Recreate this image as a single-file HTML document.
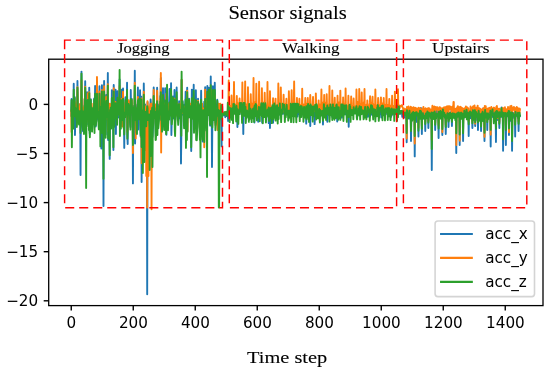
<!DOCTYPE html>
<html lang="en">
<head>
<meta charset="utf-8">
<title>Sensor signals</title>
<style>
html,body{margin:0;padding:0;background:#fff;}
body{width:550px;height:375px;overflow:hidden;}
svg{display:block;}
</style>
</head>
<body>
<svg width="550" height="375" viewBox="0 0 550 375">
<rect width="550" height="375" fill="#fff"/>
<defs><clipPath id="c"><rect x="48.70" y="59.20" width="494.30" height="246.40"/></clipPath></defs>
<g clip-path="url(#c)" fill="none" stroke-width="1.9" stroke-linejoin="round" stroke-linecap="butt">
<path d="M71.25,116.68 L71.56,98.92 L71.87,107.16 L72.18,115.03 L72.49,116.93 L72.80,112.35 L73.11,116.52 L73.42,121.38 L73.73,83.80 L74.04,115.54 L74.35,106.19 L74.66,97.04 L74.97,135.00 L75.28,117.44 L75.59,115.10 L75.90,104.66 L76.21,107.16 L76.52,115.91 L76.83,120.26 L77.14,118.64 L77.45,80.90 L77.76,108.50 L78.07,111.15 L78.38,111.20 L78.69,115.74 L79.00,114.50 L79.31,113.08 L79.62,111.66 L79.93,104.40 L80.24,111.39 L80.55,175.00 L80.86,111.07 L81.17,102.88 L81.48,71.60 L81.79,111.04 L82.10,115.39 L82.41,108.10 L82.72,125.98 L83.03,131.25 L83.34,120.71 L83.65,114.00 L83.96,114.97 L84.27,111.83 L84.58,99.59 L84.89,109.75 L85.20,81.10 L85.51,116.80 L85.82,110.49 L86.13,116.72 L86.44,118.84 L86.75,124.14 L87.06,92.20 L87.37,110.38 L87.68,110.12 L87.99,94.17 L88.30,112.66 L88.61,112.43 L88.92,115.10 L89.23,87.80 L89.54,127.53 L89.85,134.03 L90.16,121.03 L90.47,109.74 L90.78,99.09 L91.09,126.60 L91.40,112.72 L91.71,108.34 L92.02,118.14 L92.33,115.70 L92.64,113.40 L92.95,109.53 L93.26,109.09 L93.57,113.67 L93.88,111.93 L94.19,98.54 L94.50,108.88 L94.81,109.87 L95.12,86.00 L95.43,108.41 L95.74,126.44 L96.05,123.25 L96.36,120.06 L96.67,117.67 L96.98,82.20 L97.29,111.43 L97.60,118.64 L97.91,109.12 L98.22,117.38 L98.53,118.51 L98.84,121.91 L99.15,115.11 L99.46,86.30 L99.77,109.59 L100.08,104.40 L100.39,102.26 L100.70,111.24 L101.01,111.85 L101.32,148.60 L101.63,113.85 L101.94,85.20 L102.25,124.39 L102.56,110.30 L102.87,106.39 L103.18,114.20 L103.49,206.00 L103.80,107.55 L104.11,80.90 L104.42,106.05 L104.73,109.03 L105.04,112.15 L105.35,123.41 L105.66,134.46 L105.97,118.03 L106.28,95.03 L106.59,111.03 L106.90,109.42 L107.21,118.29 L107.52,112.40 L107.83,73.00 L108.14,140.06 L108.45,133.47 L108.76,126.87 L109.07,106.82 L109.38,109.10 L109.69,158.90 L110.00,110.85 L110.31,107.44 L110.62,118.64 L110.93,121.93 L111.24,126.04 L111.55,117.83 L111.86,90.30 L112.17,105.77 L112.48,109.40 L112.79,96.03 L113.10,107.31 L113.41,150.00 L113.72,84.90 L114.03,119.06 L114.34,124.55 L114.65,119.67 L114.96,111.00 L115.27,109.91 L115.58,89.60 L115.89,134.00 L116.20,104.40 L116.51,115.05 L116.82,111.61 L117.13,114.57 L117.44,91.10 L117.75,106.16 L118.06,117.45 L118.37,114.83 L118.68,109.29 L118.99,99.33 L119.30,117.51 L119.61,79.33 L119.92,108.60 L120.23,108.60 L120.54,112.88 L120.85,116.52 L121.16,111.84 L121.47,89.60 L121.78,114.81 L122.09,99.74 L122.40,109.88 L122.71,113.89 L123.02,88.50 L123.33,112.85 L123.64,116.14 L123.95,113.21 L124.26,147.90 L124.57,106.74 L124.88,113.58 L125.19,112.72 L125.50,97.19 L125.81,104.40 L126.12,104.40 L126.43,110.50 L126.74,109.82 L127.05,82.70 L127.36,135.22 L127.67,144.00 L127.98,110.27 L128.29,108.79 L128.60,101.09 L128.91,118.06 L129.22,117.13 L129.53,107.84 L129.84,114.13 L130.15,122.64 L130.46,127.05 L130.77,90.00 L131.08,112.26 L131.39,108.58 L131.70,98.69 L132.01,112.38 L132.32,115.31 L132.63,105.78 L132.94,183.40 L133.25,122.66 L133.56,127.07 L133.87,118.24 L134.18,107.69 L134.49,117.83 L134.80,70.70 L135.11,143.50 L135.42,104.40 L135.73,106.56 L136.04,111.28 L136.35,117.37 L136.66,124.14 L136.97,111.82 L137.28,112.40 L137.59,105.43 L137.90,87.40 L138.21,129.50 L138.52,96.16 L138.83,104.40 L139.14,104.40 L139.45,108.28 L139.76,107.76 L140.07,90.30 L140.38,125.21 L140.69,136.75 L141.00,108.87 L141.31,96.60 L141.62,182.00 L141.93,118.25 L142.24,109.16 L142.55,114.06 L142.86,116.86 L143.17,119.55 L143.48,114.17 L143.79,83.40 L144.10,106.96 L144.41,109.66 L144.72,105.87 L145.03,104.40 L145.34,110.68 L145.65,118.64 L145.96,114.73 L146.27,116.12 L146.58,113.00 L146.89,110.43 L147.20,294.20 L147.51,102.14 L147.82,117.46 L148.13,109.47 L148.44,111.27 L148.75,112.17 L149.06,111.11 L149.37,119.66 L149.68,123.55 L149.99,118.22 L150.30,110.91 L150.61,99.57 L150.92,104.40 L151.23,104.94 L151.54,107.66 L151.85,113.77 L152.16,104.41 L152.47,137.05 L152.78,131.21 L153.09,125.37 L153.40,110.38 L153.71,87.40 L154.02,101.83 L154.33,115.58 L154.64,112.43 L154.95,104.40 L155.26,111.09 L155.57,125.52 L155.88,136.29 L156.19,126.72 L156.50,115.70 L156.81,111.70 L157.12,87.80 L157.43,109.59 L157.74,110.24 L158.05,104.40 L158.36,116.29 L158.67,114.42 L158.98,113.08 L159.29,104.40 L159.60,118.64 L159.91,113.74 L160.22,95.92 L160.53,107.85 L160.84,77.89 L161.15,104.62 L161.46,117.74 L161.77,117.65 L162.08,123.43 L162.39,118.29 L162.70,108.40 L163.01,88.20 L163.32,118.64 L163.63,112.42 L163.94,117.40 L164.25,122.33 L164.56,119.40 L164.87,116.46 L165.18,88.20 L165.49,111.67 L165.80,117.56 L166.11,114.12 L166.42,134.70 L166.73,116.16 L167.04,93.40 L167.35,113.63 L167.66,123.09 L167.97,127.69 L168.28,118.49 L168.59,109.21 L168.90,110.32 L169.21,107.99 L169.52,88.90 L169.83,109.25 L170.14,108.91 L170.45,109.05 L170.76,108.97 L171.07,83.10 L171.38,135.00 L171.69,122.34 L172.00,119.84 L172.31,117.35 L172.62,104.40 L172.93,96.57 L173.24,116.14 L173.55,118.33 L173.86,112.03 L174.17,111.18 L174.48,90.00 L174.79,117.51 L175.10,121.24 L175.41,113.79 L175.72,113.98 L176.03,100.02 L176.34,106.46 L176.65,87.40 L176.96,115.24 L177.27,112.84 L177.58,114.49 L177.89,115.05 L178.20,118.70 L178.51,115.45 L178.82,110.91 L179.13,101.16 L179.44,115.01 L179.75,112.88 L180.06,118.64 L180.37,117.17 L180.68,112.61 L180.99,163.60 L181.30,137.37 L181.61,79.90 L181.92,112.83 L182.23,107.25 L182.54,100.76 L182.85,111.13 L183.16,114.70 L183.47,107.99 L183.78,113.34 L184.09,116.35 L184.40,114.33 L184.71,104.40 L185.02,109.81 L185.33,105.66 L185.64,91.70 L185.95,109.10 L186.26,113.44 L186.57,111.48 L186.88,104.40 L187.19,87.80 L187.50,118.09 L187.81,111.16 L188.12,109.34 L188.43,105.43 L188.74,112.94 L189.05,98.64 L189.36,112.02 L189.67,110.72 L189.98,110.30 L190.29,104.96 L190.60,109.38 L190.91,122.77 L191.22,151.10 L191.53,123.59 L191.84,89.60 L192.15,107.26 L192.46,109.66 L192.77,110.10 L193.08,104.40 L193.39,114.88 L193.70,84.70 L194.01,129.99 L194.32,122.93 L194.63,112.72 L194.94,99.32 L195.25,112.01 L195.56,110.25 L195.87,90.30 L196.18,115.83 L196.49,110.88 L196.80,129.51 L197.11,124.78 L197.42,120.05 L197.73,107.85 L198.04,98.67 L198.35,109.98 L198.66,115.47 L198.97,105.77 L199.28,104.40 L199.59,120.86 L199.90,129.27 L200.21,121.80 L200.52,110.25 L200.83,110.33 L201.14,90.70 L201.45,116.61 L201.76,106.12 L202.07,111.00 L202.38,133.12 L202.69,141.45 L203.00,124.79 L203.31,109.56 L203.62,107.53 L203.93,110.62 L204.24,101.68 L204.55,113.09 L204.86,118.64 L205.17,87.10 L205.48,107.69 L205.79,110.13 L206.10,120.96 L206.41,128.00 L206.72,121.74 L207.03,113.91 L207.34,86.00 L207.65,105.53 L207.96,94.89 L208.27,105.52 L208.58,113.61 L208.89,87.80 L209.20,105.21 L209.51,111.21 L209.82,120.23 L210.13,125.58 L210.44,120.82 L210.75,76.50 L211.06,112.67 L211.37,108.99 L211.68,107.63 L211.99,167.00 L212.30,125.13 L212.61,117.46 L212.92,86.30 L213.23,112.96 L213.54,110.49 L213.85,101.80 L214.16,113.28 L214.47,112.67 L214.78,82.70 L215.09,109.84 L215.40,122.47 L215.71,119.50 L216.02,116.53 L216.33,104.40 L216.64,114.43 L216.95,107.21 L217.26,99.71 L217.57,104.40 L217.88,104.40 L218.19,118.64 L218.50,115.06 L218.81,107.85 L219.12,114.11 L219.43,119.39 L219.74,111.10 L220.05,108.77 L220.36,107.90 L220.67,111.13 L220.98,106.24 L221.29,118.64 L221.60,146.40 L221.91,115.35 L222.22,106.55 L222.53,115.96 L222.84,112.56 L223.15,112.44 L223.46,115.06 L223.77,115.14 L224.08,113.96 L224.39,114.20 L224.70,115.66 L225.01,113.38 L225.32,117.23 L225.63,114.86 L225.94,114.82 L226.25,114.62 L226.56,113.77 L226.87,116.03 L227.18,113.35 L227.49,114.49 L227.80,112.13 L228.11,121.00 L228.42,110.44 L228.73,115.10 L229.04,114.60 L229.35,112.50 L229.66,112.55 L229.97,111.10 L230.28,108.52 L230.59,112.44 L230.90,110.06 L231.21,109.80 L231.52,113.94 L231.83,110.71 L232.14,113.59 L232.45,108.66 L232.76,110.16 L233.07,111.23 L233.38,114.56 L233.69,110.99 L234.00,113.16 L234.31,109.54 L234.62,111.57 L234.93,113.27 L235.24,109.00 L235.55,109.50 L235.86,112.73 L236.17,108.42 L236.48,112.01 L236.79,112.03 L237.10,110.97 L237.41,127.00 L237.72,112.36 L238.03,111.67 L238.34,107.52 L238.65,107.59 L238.96,111.91 L239.27,107.32 L239.58,111.38 L239.89,110.34 L240.20,109.10 L240.51,110.56 L240.82,105.34 L241.13,110.68 L241.44,114.21 L241.75,108.07 L242.06,112.29 L242.37,112.02 L242.68,118.62 L242.99,108.82 L243.30,134.00 L243.61,109.31 L243.92,108.87 L244.23,107.12 L244.54,111.39 L244.85,108.97 L245.16,113.10 L245.47,112.14 L245.78,108.68 L246.09,110.31 L246.40,114.55 L246.71,110.39 L247.02,111.72 L247.33,113.28 L247.64,110.21 L247.95,112.27 L248.26,115.13 L248.57,114.00 L248.88,106.93 L249.19,114.99 L249.50,110.73 L249.81,109.78 L250.12,109.70 L250.43,114.28 L250.74,112.06 L251.05,110.93 L251.36,109.31 L251.67,112.86 L251.98,114.13 L252.29,108.81 L252.60,108.56 L252.91,110.37 L253.22,112.77 L253.53,110.28 L253.84,111.01 L254.15,109.22 L254.46,122.50 L254.77,110.99 L255.08,111.66 L255.39,114.00 L255.70,110.74 L256.01,111.19 L256.32,112.28 L256.63,110.30 L256.94,114.76 L257.25,111.41 L257.56,110.21 L257.87,110.58 L258.18,121.78 L258.49,114.22 L258.80,114.98 L259.11,110.69 L259.42,110.16 L259.73,106.07 L260.04,109.76 L260.35,113.42 L260.66,109.30 L260.97,113.35 L261.28,114.92 L261.59,104.87 L261.90,110.47 L262.21,122.80 L262.52,109.89 L262.83,106.83 L263.14,110.58 L263.45,108.28 L263.76,113.80 L264.07,114.69 L264.38,107.77 L264.69,107.65 L265.00,110.02 L265.31,110.72 L265.62,110.87 L265.93,112.96 L266.24,107.50 L266.55,109.66 L266.86,110.03 L267.17,110.35 L267.48,108.70 L267.79,110.03 L268.10,109.44 L268.41,114.14 L268.72,123.12 L269.03,105.90 L269.34,112.55 L269.65,111.59 L269.96,128.00 L270.27,108.92 L270.58,109.74 L270.89,115.25 L271.20,110.04 L271.51,114.18 L271.82,113.30 L272.13,109.93 L272.44,112.00 L272.75,109.29 L273.06,122.78 L273.37,109.37 L273.68,109.50 L273.99,113.47 L274.30,112.85 L274.61,113.89 L274.92,112.58 L275.23,113.95 L275.54,112.89 L275.85,111.79 L276.16,113.73 L276.47,114.76 L276.78,114.62 L277.09,110.16 L277.40,111.13 L277.71,108.76 L278.02,108.71 L278.33,112.11 L278.64,109.63 L278.95,114.81 L279.26,105.67 L279.57,108.34 L279.88,111.80 L280.19,114.13 L280.50,110.34 L280.81,115.87 L281.12,113.19 L281.43,109.44 L281.74,111.09 L282.05,112.48 L282.36,108.94 L282.67,113.82 L282.98,110.58 L283.29,112.50 L283.60,113.35 L283.91,110.14 L284.22,113.71 L284.53,106.60 L284.84,112.71 L285.15,106.39 L285.46,113.96 L285.77,109.79 L286.08,114.22 L286.39,114.57 L286.70,110.88 L287.01,109.61 L287.32,114.40 L287.63,108.37 L287.94,113.23 L288.25,110.95 L288.56,110.34 L288.87,109.81 L289.18,115.69 L289.49,107.30 L289.80,109.89 L290.11,112.32 L290.42,113.79 L290.73,115.43 L291.04,114.62 L291.35,109.94 L291.66,112.11 L291.97,114.05 L292.28,112.57 L292.59,107.43 L292.90,112.09 L293.21,112.71 L293.52,107.96 L293.83,110.14 L294.14,111.17 L294.45,112.77 L294.76,115.09 L295.07,114.15 L295.38,112.45 L295.69,111.81 L296.00,110.40 L296.31,109.92 L296.62,110.73 L296.93,110.73 L297.24,113.75 L297.55,116.56 L297.86,112.55 L298.17,113.62 L298.48,112.88 L298.79,111.95 L299.10,114.33 L299.41,114.00 L299.72,111.52 L300.03,110.99 L300.34,112.88 L300.65,110.05 L300.96,111.81 L301.27,113.78 L301.58,111.17 L301.89,106.65 L302.20,112.93 L302.51,108.41 L302.82,107.89 L303.13,107.60 L303.44,113.29 L303.75,106.33 L304.06,110.99 L304.37,111.90 L304.68,111.84 L304.99,109.80 L305.30,111.15 L305.61,111.71 L305.92,108.12 L306.23,123.64 L306.54,113.83 L306.85,109.33 L307.16,109.55 L307.47,108.59 L307.78,113.91 L308.09,108.62 L308.40,110.09 L308.71,106.95 L309.02,114.34 L309.33,110.74 L309.64,111.96 L309.95,115.18 L310.26,126.00 L310.57,108.51 L310.88,112.43 L311.19,113.05 L311.50,109.14 L311.81,108.85 L312.12,108.85 L312.43,113.21 L312.74,111.42 L313.05,108.74 L313.36,112.88 L313.67,113.11 L313.98,109.24 L314.29,107.44 L314.60,124.14 L314.91,117.65 L315.22,114.83 L315.53,113.76 L315.84,111.61 L316.15,109.76 L316.46,111.63 L316.77,112.99 L317.08,110.90 L317.39,113.64 L317.70,111.39 L318.01,112.85 L318.32,104.69 L318.63,109.27 L318.94,113.32 L319.25,113.72 L319.56,112.35 L319.87,115.31 L320.18,113.07 L320.49,113.09 L320.80,109.10 L321.11,112.32 L321.42,113.21 L321.73,114.56 L322.04,114.16 L322.35,111.44 L322.66,111.80 L322.97,124.57 L323.28,112.82 L323.59,108.67 L323.90,110.64 L324.21,111.29 L324.52,116.20 L324.83,114.44 L325.14,109.45 L325.45,107.84 L325.76,110.77 L326.07,109.40 L326.38,112.27 L326.69,112.19 L327.00,112.90 L327.31,121.74 L327.62,110.43 L327.93,111.85 L328.24,112.08 L328.55,109.91 L328.86,110.48 L329.17,113.32 L329.48,107.06 L329.79,110.64 L330.10,111.25 L330.41,107.65 L330.72,108.76 L331.03,111.49 L331.34,109.96 L331.65,113.90 L331.96,112.85 L332.27,116.82 L332.58,108.28 L332.89,115.93 L333.20,109.60 L333.51,113.31 L333.82,113.68 L334.13,111.75 L334.44,110.62 L334.75,109.77 L335.06,106.92 L335.37,110.39 L335.68,109.11 L335.99,112.74 L336.30,109.52 L336.61,110.90 L336.92,112.41 L337.23,121.48 L337.54,111.43 L337.85,110.80 L338.16,110.29 L338.47,112.52 L338.78,113.09 L339.09,109.44 L339.40,115.44 L339.71,112.79 L340.02,107.46 L340.33,117.92 L340.64,112.98 L340.95,109.59 L341.26,115.33 L341.57,104.90 L341.88,117.63 L342.19,107.75 L342.50,107.45 L342.81,109.02 L343.12,111.82 L343.43,110.40 L343.74,113.48 L344.05,109.29 L344.36,114.02 L344.67,111.95 L344.98,108.83 L345.29,114.01 L345.60,112.17 L345.91,110.87 L346.22,114.57 L346.53,108.42 L346.84,110.44 L347.15,114.99 L347.46,111.39 L347.77,113.18 L348.08,112.89 L348.39,111.09 L348.70,126.70 L349.01,108.91 L349.32,113.00 L349.63,108.86 L349.94,111.38 L350.25,109.17 L350.56,112.60 L350.87,112.51 L351.18,114.10 L351.49,109.86 L351.80,108.97 L352.11,106.07 L352.42,108.11 L352.73,110.66 L353.04,111.79 L353.35,110.32 L353.66,111.34 L353.97,107.68 L354.28,108.96 L354.59,113.33 L354.90,112.96 L355.21,107.92 L355.52,110.52 L355.83,111.84 L356.14,108.36 L356.45,112.23 L356.76,111.96 L357.07,112.41 L357.38,116.09 L357.69,109.15 L358.00,114.24 L358.31,112.67 L358.62,113.10 L358.93,109.49 L359.24,111.44 L359.55,111.24 L359.86,115.40 L360.17,111.49 L360.48,114.90 L360.79,110.52 L361.10,110.37 L361.41,111.32 L361.72,106.26 L362.03,109.98 L362.34,109.81 L362.65,110.92 L362.96,111.75 L363.27,108.90 L363.58,108.57 L363.89,114.47 L364.20,108.69 L364.51,110.01 L364.82,108.92 L365.13,110.13 L365.44,114.33 L365.75,114.15 L366.06,106.79 L366.37,110.65 L366.68,114.75 L366.99,110.42 L367.30,112.16 L367.61,115.80 L367.92,116.90 L368.23,115.21 L368.54,110.61 L368.85,111.39 L369.16,111.89 L369.47,110.58 L369.78,109.80 L370.09,116.44 L370.40,112.01 L370.71,113.31 L371.02,114.30 L371.33,112.62 L371.64,111.58 L371.95,111.93 L372.26,114.85 L372.57,112.46 L372.88,106.33 L373.19,113.86 L373.50,115.42 L373.81,110.60 L374.12,109.81 L374.43,110.13 L374.74,114.02 L375.05,108.82 L375.36,113.20 L375.67,114.06 L375.98,112.77 L376.29,111.54 L376.60,109.52 L376.91,109.74 L377.22,111.33 L377.53,108.98 L377.84,111.07 L378.15,109.07 L378.46,114.72 L378.77,115.14 L379.08,109.37 L379.39,114.69 L379.70,112.01 L380.01,111.51 L380.32,112.47 L380.63,112.39 L380.94,107.86 L381.25,117.48 L381.56,109.10 L381.87,105.64 L382.18,111.22 L382.49,111.32 L382.80,109.49 L383.11,106.78 L383.42,114.19 L383.73,111.06 L384.04,111.73 L384.35,109.90 L384.66,110.88 L384.97,109.65 L385.28,112.31 L385.59,111.15 L385.90,112.92 L386.21,112.90 L386.52,111.62 L386.83,111.62 L387.14,114.15 L387.45,107.42 L387.76,111.61 L388.07,114.67 L388.38,108.57 L388.69,113.11 L389.00,110.03 L389.31,111.32 L389.62,110.66 L389.93,110.85 L390.24,112.69 L390.55,111.17 L390.86,106.28 L391.17,116.77 L391.48,111.11 L391.79,110.21 L392.10,113.86 L392.41,114.64 L392.72,105.97 L393.03,112.19 L393.34,106.17 L393.65,109.96 L393.96,111.09 L394.27,110.11 L394.58,109.72 L394.89,108.38 L395.20,110.20 L395.51,110.92 L395.82,110.84 L396.13,107.96 L396.44,109.27 L396.75,113.73 L397.06,112.83 L397.37,110.46 L397.68,112.80 L397.99,112.20 L398.30,113.62 L398.61,111.92 L398.92,110.23 L399.23,113.27 L399.54,111.78 L399.85,112.65 L400.16,113.92 L400.47,113.23 L400.78,111.01 L401.09,110.93 L401.40,113.38 L401.71,113.48 L402.02,113.63 L402.33,116.82 L402.64,115.93 L402.95,114.24 L403.26,113.99 L403.57,116.87 L403.88,114.49 L404.19,116.90 L404.50,116.66 L404.81,117.61 L405.12,113.04 L405.43,113.81 L405.74,109.92 L406.05,111.77 L406.36,111.65 L406.67,142.30 L406.98,110.34 L407.29,113.03 L407.60,118.99 L407.91,112.35 L408.22,116.22 L408.53,114.70 L408.84,115.38 L409.15,118.24 L409.46,115.24 L409.77,118.66 L410.08,116.45 L410.39,114.91 L410.70,114.15 L411.01,141.00 L411.32,114.48 L411.63,108.89 L411.94,113.07 L412.25,117.14 L412.56,115.64 L412.87,115.75 L413.18,114.57 L413.49,115.62 L413.80,116.24 L414.11,110.09 L414.42,114.03 L414.73,156.40 L415.04,114.76 L415.35,114.67 L415.66,110.72 L415.97,112.96 L416.28,111.38 L416.59,121.79 L416.90,113.34 L417.21,111.54 L417.52,109.29 L417.83,114.06 L418.14,118.35 L418.45,136.60 L418.76,115.61 L419.07,118.53 L419.38,115.65 L419.69,111.54 L420.00,111.18 L420.31,112.36 L420.62,116.71 L420.93,107.95 L421.24,117.00 L421.55,114.32 L421.86,134.00 L422.17,110.90 L422.48,113.03 L422.79,111.95 L423.10,113.91 L423.41,114.29 L423.72,113.70 L424.03,118.76 L424.34,111.68 L424.65,111.88 L424.96,115.09 L425.27,131.00 L425.58,113.39 L425.89,110.27 L426.20,113.06 L426.51,114.02 L426.82,115.37 L427.13,117.81 L427.44,115.58 L427.75,113.94 L428.06,114.73 L428.37,128.00 L428.68,112.28 L428.99,113.04 L429.30,113.44 L429.61,112.50 L429.92,113.65 L430.23,114.19 L430.54,112.96 L430.85,118.35 L431.16,111.03 L431.47,117.27 L431.78,170.00 L432.09,114.07 L432.40,111.38 L432.71,114.02 L433.02,116.42 L433.33,111.47 L433.64,113.65 L433.95,113.81 L434.26,113.90 L434.57,111.64 L434.88,112.09 L435.19,130.00 L435.50,117.90 L435.81,115.09 L436.12,113.83 L436.43,109.69 L436.74,113.15 L437.05,114.32 L437.36,111.15 L437.67,114.36 L437.98,114.16 L438.29,113.70 L438.60,138.00 L438.91,111.74 L439.22,113.04 L439.53,114.78 L439.84,116.89 L440.15,113.56 L440.46,110.65 L440.77,115.66 L441.08,116.69 L441.39,113.05 L441.70,118.00 L442.01,119.54 L442.32,135.00 L442.63,115.78 L442.94,114.76 L443.25,115.44 L443.56,113.27 L443.87,114.62 L444.18,115.55 L444.49,115.20 L444.80,112.53 L445.11,111.73 L445.42,111.86 L445.73,134.00 L446.04,122.17 L446.35,116.54 L446.66,114.85 L446.97,113.57 L447.28,118.05 L447.59,110.58 L447.90,113.33 L448.21,115.60 L448.52,127.00 L448.83,114.92 L449.14,115.94 L449.45,112.83 L449.76,115.19 L450.07,117.54 L450.38,115.63 L450.69,114.35 L451.00,116.72 L451.31,110.97 L451.62,116.74 L451.93,126.00 L452.24,111.87 L452.55,116.38 L452.86,113.75 L453.17,111.17 L453.48,114.54 L453.79,116.99 L454.10,113.79 L454.41,109.18 L454.72,117.72 L455.03,112.70 L455.34,114.04 L455.65,114.35 L455.96,115.02 L456.27,153.00 L456.58,111.51 L456.89,112.59 L457.20,116.50 L457.51,110.23 L457.82,117.24 L458.13,112.43 L458.44,113.60 L458.75,111.11 L459.06,113.18 L459.37,111.46 L459.68,145.00 L459.99,111.66 L460.30,113.20 L460.61,108.77 L460.92,115.75 L461.23,111.11 L461.54,112.90 L461.85,113.61 L462.16,115.43 L462.47,112.94 L462.78,117.66 L463.09,141.00 L463.40,112.29 L463.71,117.86 L464.02,110.51 L464.33,114.71 L464.64,113.43 L464.95,113.85 L465.26,113.01 L465.57,114.72 L465.88,114.94 L466.19,114.35 L466.50,111.46 L466.81,111.25 L467.12,110.91 L467.43,113.14 L467.74,114.53 L468.05,118.16 L468.36,112.46 L468.67,136.00 L468.98,115.02 L469.29,112.05 L469.60,110.87 L469.91,113.80 L470.22,111.44 L470.53,113.28 L470.84,118.29 L471.15,115.19 L471.46,115.04 L471.77,112.73 L472.08,116.15 L472.39,128.00 L472.70,116.39 L473.01,114.13 L473.32,113.86 L473.63,111.64 L473.94,112.07 L474.25,113.63 L474.56,113.44 L474.87,113.76 L475.18,126.00 L475.49,110.23 L475.80,120.13 L476.11,114.46 L476.42,113.26 L476.73,111.26 L477.04,116.72 L477.35,113.18 L477.66,111.91 L477.97,130.00 L478.28,118.72 L478.59,114.91 L478.90,116.98 L479.21,112.43 L479.52,116.12 L479.83,109.66 L480.14,113.68 L480.45,116.01 L480.76,115.27 L481.07,131.00 L481.38,113.07 L481.69,110.37 L482.00,114.56 L482.31,111.76 L482.62,116.34 L482.93,113.27 L483.24,108.37 L483.55,117.48 L483.86,111.01 L484.17,111.15 L484.48,141.00 L484.79,117.55 L485.10,116.43 L485.41,111.65 L485.72,115.08 L486.03,114.44 L486.34,112.29 L486.65,113.74 L486.96,113.48 L487.27,130.00 L487.58,111.27 L487.89,115.94 L488.20,109.92 L488.51,114.86 L488.82,115.99 L489.13,112.45 L489.44,112.93 L489.75,118.90 L490.06,113.49 L490.37,117.35 L490.68,146.50 L490.99,112.11 L491.30,116.15 L491.61,113.17 L491.92,114.97 L492.23,109.29 L492.54,114.28 L492.85,116.93 L493.16,116.75 L493.47,116.27 L493.78,113.73 L494.09,114.05 L494.40,111.67 L494.71,113.64 L495.02,113.73 L495.33,113.26 L495.64,114.37 L495.95,142.00 L496.26,112.13 L496.57,112.13 L496.88,115.40 L497.19,118.40 L497.50,116.04 L497.81,113.37 L498.12,120.17 L498.43,115.23 L498.74,112.96 L499.05,115.45 L499.36,128.00 L499.67,109.76 L499.98,110.67 L500.29,114.70 L500.60,110.82 L500.91,110.88 L501.22,116.85 L501.53,107.49 L501.84,116.37 L502.15,114.72 L502.46,116.77 L502.77,113.89 L503.08,150.70 L503.39,114.10 L503.70,111.42 L504.01,113.56 L504.32,114.73 L504.63,110.29 L504.94,116.29 L505.25,111.71 L505.56,114.83 L505.87,145.00 L506.18,114.01 L506.49,113.78 L506.80,114.22 L507.11,116.01 L507.42,115.49 L507.73,113.01 L508.04,114.36 L508.35,116.96 L508.66,115.83 L508.97,135.00 L509.28,114.24 L509.59,113.67 L509.90,113.89 L510.21,115.72 L510.52,114.07 L510.83,117.47 L511.14,121.20 L511.45,114.25 L511.76,118.18 L512.07,150.70 L512.38,117.09 L512.69,112.58 L513.00,117.10 L513.31,113.46 L513.62,115.34 L513.93,117.17 L514.24,118.01 L514.55,113.01 L514.86,113.20 L515.17,136.60 L515.48,109.66 L515.79,113.49 L516.10,113.47 L516.41,114.46 L516.72,113.90 L517.03,115.03 L517.34,116.36 L517.65,109.28 L517.96,118.74 L518.27,113.55 L518.58,131.00 L518.89,113.81 L519.20,116.54 L519.51,114.65 L519.82,115.32 L520.13,116.83" stroke="#1f77b4"/>
<path d="M71.25,109.38 L71.56,132.00 L71.87,107.13 L72.18,111.93 L72.49,111.93 L72.80,114.37 L73.11,112.19 L73.42,115.32 L73.73,100.91 L74.04,109.05 L74.35,104.61 L74.66,101.95 L74.97,108.87 L75.28,106.38 L75.59,104.57 L75.90,109.80 L76.21,109.43 L76.52,111.80 L76.83,114.60 L77.14,112.11 L77.45,87.10 L77.76,104.97 L78.07,106.80 L78.38,111.60 L78.69,107.19 L79.00,113.49 L79.31,112.21 L79.62,110.93 L79.93,107.14 L80.24,103.61 L80.55,104.95 L80.86,111.00 L81.17,105.07 L81.48,80.30 L81.79,108.30 L82.10,108.34 L82.41,109.59 L82.72,116.73 L83.03,119.74 L83.34,115.40 L83.65,107.14 L83.96,111.23 L84.27,111.19 L84.58,98.61 L84.89,107.51 L85.20,86.70 L85.51,115.05 L85.82,112.50 L86.13,115.40 L86.44,117.23 L86.75,121.95 L87.06,105.62 L87.37,106.09 L87.68,113.64 L87.99,93.19 L88.30,109.72 L88.61,108.75 L88.92,106.40 L89.23,92.20 L89.54,119.82 L89.85,124.15 L90.16,115.48 L90.47,106.35 L90.78,104.00 L91.09,105.42 L91.40,108.69 L91.71,103.61 L92.02,115.40 L92.33,111.18 L92.64,109.80 L92.95,109.83 L93.26,111.48 L93.57,109.52 L93.88,113.67 L94.19,103.45 L94.50,103.61 L94.81,104.25 L95.12,102.88 L95.43,111.78 L95.74,110.70 L96.05,109.78 L96.36,111.59 L96.67,111.10 L96.98,76.90 L97.29,105.30 L97.60,109.92 L97.91,112.70 L98.22,114.31 L98.53,113.47 L98.84,115.65 L99.15,111.29 L99.46,91.40 L99.77,106.73 L100.08,103.61 L100.39,101.28 L100.70,112.82 L101.01,105.28 L101.32,104.20 L101.63,111.31 L101.94,90.00 L102.25,117.25 L102.56,114.50 L102.87,103.61 L103.18,115.40 L103.49,96.93 L103.80,109.53 L104.11,86.30 L104.42,107.90 L104.73,107.51 L105.04,109.32 L105.35,113.90 L105.66,119.43 L105.97,108.53 L106.28,96.99 L106.59,108.03 L106.90,107.70 L107.21,111.93 L107.52,110.92 L107.83,84.22 L108.14,131.57 L108.45,126.55 L108.76,121.52 L109.07,103.61 L109.38,113.98 L109.69,107.19 L110.00,103.61 L110.31,105.60 L110.62,107.70 L110.93,113.17 L111.24,115.22 L111.55,111.11 L111.86,107.87 L112.17,105.74 L112.48,110.01 L112.79,104.87 L113.10,113.01 L113.41,108.71 L113.72,88.20 L114.03,111.73 L114.34,114.47 L114.65,112.03 L114.96,106.64 L115.27,107.20 L115.58,101.95 L115.89,103.29 L116.20,109.67 L116.51,105.69 L116.82,112.57 L117.13,116.60 L117.44,107.02 L117.75,111.32 L118.06,110.35 L118.37,111.05 L118.68,107.93 L118.99,98.34 L119.30,104.26 L119.61,86.05 L119.92,115.40 L120.23,111.25 L120.54,115.40 L120.85,111.67 L121.16,104.57 L121.47,98.86 L121.78,113.52 L122.09,126.60 L122.40,103.61 L122.71,107.34 L123.02,91.70 L123.33,117.91 L123.64,123.18 L123.95,118.50 L124.26,108.00 L124.57,107.20 L124.88,106.22 L125.19,110.81 L125.50,102.10 L125.81,108.33 L126.12,112.06 L126.43,108.75 L126.74,108.17 L127.05,97.37 L127.36,131.80 L127.67,123.67 L127.98,109.14 L128.29,106.89 L128.60,100.11 L128.91,110.35 L129.22,111.59 L129.53,114.65 L129.84,111.98 L130.15,110.48 L130.46,111.95 L130.77,100.87 L131.08,109.92 L131.39,108.41 L131.70,100.65 L132.01,110.74 L132.32,109.46 L132.63,115.31 L132.94,153.00 L133.25,113.53 L133.56,115.73 L133.87,111.32 L134.18,107.71 L134.49,109.92 L134.80,82.70 L135.11,109.10 L135.42,108.54 L135.73,138.40 L136.04,115.40 L136.35,112.74 L136.66,117.09 L136.97,110.57 L137.28,107.68 L137.59,106.13 L137.90,96.98 L138.21,110.38 L138.52,105.00 L138.83,104.14 L139.14,104.28 L139.45,103.61 L139.76,109.07 L140.07,106.87 L140.38,116.29 L140.69,122.89 L141.00,107.74 L141.31,98.56 L141.62,163.30 L141.93,115.02 L142.24,111.85 L142.55,108.60 L142.86,112.41 L143.17,114.14 L143.48,110.68 L143.79,91.70 L144.10,101.86 L144.41,107.02 L144.72,109.45 L145.03,106.26 L145.34,150.00 L145.65,108.65 L145.96,114.11 L146.27,176.00 L146.58,113.97 L146.89,112.99 L147.20,207.50 L147.51,101.15 L147.82,114.20 L148.13,106.09 L148.44,176.00 L148.75,109.87 L149.06,111.05 L149.37,110.94 L149.68,112.61 L149.99,109.27 L150.30,104.11 L150.61,104.48 L150.92,104.10 L151.23,103.61 L151.54,209.30 L151.85,114.24 L152.16,109.01 L152.47,113.73 L152.78,112.06 L153.09,110.39 L153.40,109.87 L153.71,90.00 L154.02,108.57 L154.33,106.04 L154.64,107.71 L154.95,105.07 L155.26,104.56 L155.57,118.48 L155.88,125.66 L156.19,119.28 L156.50,110.23 L156.81,112.20 L157.12,90.70 L157.43,104.08 L157.74,110.33 L158.05,112.76 L158.36,115.10 L158.67,113.42 L158.98,113.13 L159.29,107.64 L159.60,106.94 L159.91,111.16 L160.22,97.88 L160.53,110.34 L160.84,72.90 L161.15,152.60 L161.46,105.65 L161.77,110.89 L162.08,112.56 L162.39,110.35 L162.70,103.61 L163.01,104.00 L163.32,103.61 L163.63,108.72 L163.94,109.00 L164.25,112.09 L164.56,110.83 L164.87,109.57 L165.18,103.26 L165.49,110.76 L165.80,110.53 L166.11,106.62 L166.42,93.64 L166.73,103.61 L167.04,102.13 L167.35,104.57 L167.66,110.63 L167.97,112.16 L168.28,114.07 L168.59,112.92 L168.90,113.89 L169.21,103.61 L169.52,103.74 L169.83,104.75 L170.14,106.34 L170.45,103.61 L170.76,104.78 L171.07,93.06 L171.38,109.27 L171.69,110.38 L172.00,109.55 L172.31,110.50 L172.62,108.65 L172.93,98.53 L173.24,114.88 L173.55,107.56 L173.86,111.91 L174.17,107.83 L174.48,98.68 L174.79,112.27 L175.10,114.50 L175.41,114.46 L175.72,104.39 L176.03,108.85 L176.34,106.20 L176.65,102.32 L176.96,115.40 L177.27,111.35 L177.58,107.70 L177.89,111.25 L178.20,113.59 L178.51,111.51 L178.82,113.80 L179.13,109.99 L179.44,103.61 L179.75,108.42 L180.06,109.34 L180.37,114.57 L180.68,105.23 L180.99,110.77 L181.30,113.82 L181.61,79.62 L181.92,106.50 L182.23,112.20 L182.54,105.67 L182.85,113.13 L183.16,109.31 L183.47,107.48 L183.78,109.31 L184.09,111.57 L184.40,107.08 L184.71,111.37 L185.02,113.34 L185.33,108.29 L185.64,108.81 L185.95,103.26 L186.26,113.25 L186.57,110.35 L186.88,115.40 L187.19,90.70 L187.50,131.00 L187.81,107.84 L188.12,107.00 L188.43,103.61 L188.74,114.11 L189.05,100.61 L189.36,105.12 L189.67,109.33 L189.98,109.74 L190.29,103.61 L190.60,109.79 L190.91,112.84 L191.22,115.46 L191.53,112.62 L191.84,104.69 L192.15,103.24 L192.46,112.20 L192.77,106.53 L193.08,106.37 L193.39,110.92 L193.70,100.46 L194.01,117.19 L194.32,115.18 L194.63,109.69 L194.94,104.23 L195.25,110.66 L195.56,115.40 L195.87,105.84 L196.18,127.00 L196.49,103.61 L196.80,133.10 L197.11,127.69 L197.42,122.28 L197.73,104.95 L198.04,100.63 L198.35,104.86 L198.66,107.97 L198.97,112.86 L199.28,106.19 L199.59,111.46 L199.90,115.40 L200.21,111.86 L200.52,105.88 L200.83,103.61 L201.14,107.36 L201.45,103.61 L201.76,103.61 L202.07,103.61 L202.38,116.71 L202.69,120.28 L203.00,113.14 L203.31,115.40 L203.62,114.88 L203.93,108.18 L204.24,147.20 L204.55,109.14 L204.86,108.93 L205.17,89.60 L205.48,103.68 L205.79,108.69 L206.10,119.12 L206.41,125.37 L206.72,119.81 L207.03,105.13 L207.34,100.14 L207.65,109.57 L207.96,103.73 L208.27,108.09 L208.58,103.61 L208.89,98.91 L209.20,107.68 L209.51,111.87 L209.82,112.81 L210.13,113.48 L210.44,111.44 L210.75,89.58 L211.06,106.72 L211.37,111.20 L211.68,105.89 L211.99,110.03 L212.30,111.31 L212.61,108.75 L212.92,100.11 L213.23,106.26 L213.54,110.69 L213.85,110.64 L214.16,114.95 L214.47,110.17 L214.78,95.83 L215.09,109.06 L215.40,125.05 L215.71,121.66 L216.02,118.26 L216.33,113.82 L216.64,111.56 L216.95,112.04 L217.26,108.55 L217.57,130.00 L217.88,105.35 L218.19,109.83 L218.50,103.61 L218.81,114.17 L219.12,113.14 L219.43,117.89 L219.74,115.40 L220.05,103.61 L220.36,103.61 L220.67,112.37 L220.98,107.89 L221.29,109.32 L221.60,108.14 L221.91,114.06 L222.22,111.07 L222.53,113.75 L222.84,114.31 L223.15,114.17 L223.46,112.95 L223.77,114.00 L224.08,113.19 L224.39,112.40 L224.70,112.43 L225.01,112.01 L225.32,113.47 L225.63,114.09 L225.94,112.44 L226.25,112.99 L226.56,112.36 L226.87,113.23 L227.18,112.30 L227.49,112.57 L227.80,111.10 L228.11,110.54 L228.42,105.19 L228.73,80.45 L229.04,108.47 L229.35,107.02 L229.66,110.92 L229.97,105.94 L230.28,107.79 L230.59,106.66 L230.90,109.48 L231.21,106.58 L231.52,95.48 L231.83,105.49 L232.14,105.06 L232.45,105.60 L232.76,106.57 L233.07,106.28 L233.38,114.48 L233.69,105.79 L234.00,82.00 L234.31,107.60 L234.62,108.53 L234.93,111.25 L235.24,109.16 L235.55,106.22 L235.86,104.36 L236.17,109.37 L236.48,110.06 L236.79,95.87 L237.10,110.00 L237.41,102.75 L237.72,107.71 L238.03,110.01 L238.34,105.42 L238.65,103.68 L238.96,111.36 L239.27,104.01 L239.58,98.55 L239.89,104.19 L240.20,108.77 L240.51,111.71 L240.82,106.60 L241.13,105.56 L241.44,102.69 L241.75,103.61 L242.06,106.13 L242.37,82.33 L242.68,109.12 L242.99,108.56 L243.30,109.88 L243.61,108.51 L243.92,114.08 L244.23,107.40 L244.54,107.91 L244.85,101.54 L245.16,81.37 L245.47,109.02 L245.78,106.45 L246.09,110.85 L246.40,109.32 L246.71,112.42 L247.02,104.31 L247.33,106.38 L247.64,110.72 L247.95,87.28 L248.26,105.51 L248.57,106.62 L248.88,106.90 L249.19,109.94 L249.50,109.40 L249.81,107.60 L250.12,105.58 L250.43,109.87 L250.74,94.12 L251.05,105.03 L251.36,110.12 L251.67,105.19 L251.98,107.24 L252.29,105.67 L252.60,103.55 L252.91,106.15 L253.22,105.93 L253.53,78.00 L253.84,109.54 L254.15,106.26 L254.46,104.07 L254.77,104.42 L255.08,102.15 L255.39,107.07 L255.70,107.34 L256.01,105.37 L256.32,83.66 L256.63,107.99 L256.94,110.41 L257.25,105.40 L257.56,110.47 L257.87,106.58 L258.18,111.32 L258.49,105.15 L258.80,110.36 L259.11,81.73 L259.42,111.74 L259.73,108.92 L260.04,104.94 L260.35,109.81 L260.66,107.67 L260.97,109.01 L261.28,113.51 L261.59,107.08 L261.90,88.25 L262.21,110.56 L262.52,106.43 L262.83,109.79 L263.14,110.30 L263.45,107.82 L263.76,109.51 L264.07,102.21 L264.38,111.65 L264.69,92.74 L265.00,105.41 L265.31,112.70 L265.62,112.09 L265.93,106.46 L266.24,109.02 L266.55,106.90 L266.86,105.04 L267.17,108.75 L267.48,82.00 L267.79,114.54 L268.10,107.33 L268.41,110.12 L268.72,107.07 L269.03,107.27 L269.34,111.24 L269.65,103.60 L269.96,91.11 L270.27,105.75 L270.58,110.74 L270.89,108.84 L271.20,109.18 L271.51,108.86 L271.82,110.60 L272.13,106.77 L272.44,107.27 L272.75,106.94 L273.06,98.20 L273.37,104.67 L273.68,107.38 L273.99,114.56 L274.30,109.41 L274.61,107.98 L274.92,105.47 L275.23,108.58 L275.54,98.58 L275.85,109.46 L276.16,106.20 L276.47,108.94 L276.78,109.32 L277.09,109.66 L277.40,106.47 L277.71,109.15 L278.02,111.95 L278.33,83.46 L278.64,109.56 L278.95,106.96 L279.26,106.92 L279.57,104.88 L279.88,105.27 L280.19,109.25 L280.50,108.25 L280.81,87.34 L281.12,103.72 L281.43,106.75 L281.74,104.41 L282.05,108.62 L282.36,112.87 L282.67,104.08 L282.98,107.61 L283.29,107.51 L283.60,94.78 L283.91,106.25 L284.22,106.53 L284.53,111.74 L284.84,105.17 L285.15,109.14 L285.46,108.98 L285.77,103.60 L286.08,105.58 L286.39,98.69 L286.70,112.39 L287.01,107.44 L287.32,106.51 L287.63,108.03 L287.94,110.90 L288.25,109.78 L288.56,110.92 L288.87,91.23 L289.18,105.83 L289.49,105.32 L289.80,109.63 L290.11,107.26 L290.42,106.48 L290.73,109.09 L291.04,108.20 L291.35,102.62 L291.66,90.20 L291.97,105.67 L292.28,108.90 L292.59,107.73 L292.90,112.05 L293.21,107.90 L293.52,104.91 L293.83,102.68 L294.14,81.50 L294.45,106.15 L294.76,107.71 L295.07,109.31 L295.38,108.23 L295.69,106.33 L296.00,109.76 L296.31,105.55 L296.62,110.25 L296.93,97.89 L297.24,110.32 L297.55,111.93 L297.86,111.21 L298.17,105.06 L298.48,108.33 L298.79,107.30 L299.10,104.99 L299.41,98.70 L299.72,109.08 L300.03,104.58 L300.34,106.89 L300.65,107.83 L300.96,106.75 L301.27,111.34 L301.58,109.77 L301.89,108.10 L302.20,88.74 L302.51,108.75 L302.82,108.15 L303.13,105.46 L303.44,104.37 L303.75,105.95 L304.06,104.72 L304.37,108.83 L304.68,108.59 L304.99,107.06 L305.30,97.90 L305.61,109.08 L305.92,103.78 L306.23,108.33 L306.54,110.21 L306.85,106.64 L307.16,103.33 L307.47,107.64 L307.78,98.07 L308.09,108.91 L308.40,109.04 L308.71,109.53 L309.02,108.19 L309.33,103.33 L309.64,110.67 L309.95,103.82 L310.26,95.01 L310.57,108.41 L310.88,105.79 L311.19,106.29 L311.50,107.14 L311.81,111.89 L312.12,106.95 L312.43,110.35 L312.74,101.53 L313.05,96.90 L313.36,107.37 L313.67,110.65 L313.98,109.01 L314.29,111.01 L314.60,105.43 L314.91,108.48 L315.22,106.46 L315.53,109.52 L315.84,93.39 L316.15,104.67 L316.46,110.22 L316.77,112.26 L317.08,106.84 L317.39,110.64 L317.70,108.92 L318.01,105.60 L318.32,109.85 L318.63,100.37 L318.94,109.51 L319.25,104.18 L319.56,104.58 L319.87,108.99 L320.18,108.36 L320.49,109.88 L320.80,107.35 L321.11,105.02 L321.42,89.51 L321.73,105.58 L322.04,111.09 L322.35,109.95 L322.66,112.23 L322.97,102.67 L323.28,107.69 L323.59,107.24 L323.90,109.50 L324.21,94.85 L324.52,113.00 L324.83,107.77 L325.14,102.42 L325.45,108.77 L325.76,107.79 L326.07,106.19 L326.38,109.83 L326.69,94.27 L327.00,105.48 L327.31,107.36 L327.62,106.93 L327.93,108.69 L328.24,107.06 L328.55,107.70 L328.86,104.26 L329.17,106.06 L329.48,86.00 L329.79,113.84 L330.10,106.08 L330.41,105.98 L330.72,110.09 L331.03,112.74 L331.34,110.64 L331.65,105.56 L331.96,110.45 L332.27,90.53 L332.58,107.30 L332.89,104.83 L333.20,107.88 L333.51,108.08 L333.82,109.18 L334.13,103.83 L334.44,105.22 L334.75,97.81 L335.06,111.27 L335.37,109.78 L335.68,106.41 L335.99,109.61 L336.30,105.65 L336.61,106.95 L336.92,107.12 L337.23,106.23 L337.54,95.73 L337.85,109.94 L338.16,108.64 L338.47,102.09 L338.78,110.80 L339.09,109.00 L339.40,105.22 L339.71,108.23 L340.02,109.83 L340.33,90.63 L340.64,106.52 L340.95,105.33 L341.26,104.40 L341.57,107.70 L341.88,105.27 L342.19,110.37 L342.50,107.42 L342.81,109.50 L343.12,97.33 L343.43,105.99 L343.74,105.21 L344.05,110.27 L344.36,104.73 L344.67,109.00 L344.98,110.36 L345.29,108.26 L345.60,88.41 L345.91,107.83 L346.22,107.13 L346.53,108.33 L346.84,106.52 L347.15,108.61 L347.46,107.83 L347.77,111.37 L348.08,107.73 L348.39,95.72 L348.70,108.94 L349.01,108.07 L349.32,107.37 L349.63,111.88 L349.94,111.68 L350.25,108.58 L350.56,106.67 L350.87,106.95 L351.18,96.44 L351.49,104.64 L351.80,106.62 L352.11,107.89 L352.42,110.37 L352.73,110.16 L353.04,108.98 L353.35,107.18 L353.66,98.53 L353.97,107.83 L354.28,108.21 L354.59,106.29 L354.90,107.33 L355.21,107.11 L355.52,107.08 L355.83,109.18 L356.14,110.37 L356.45,89.54 L356.76,106.81 L357.07,108.38 L357.38,108.86 L357.69,102.24 L358.00,109.70 L358.31,108.37 L358.62,107.19 L358.93,110.67 L359.24,89.00 L359.55,103.42 L359.86,105.54 L360.17,106.28 L360.48,106.38 L360.79,107.56 L361.10,105.48 L361.41,108.22 L361.72,92.53 L362.03,107.59 L362.34,105.61 L362.65,107.03 L362.96,106.18 L363.27,112.81 L363.58,104.91 L363.89,102.09 L364.20,104.56 L364.51,89.00 L364.82,109.92 L365.13,107.16 L365.44,110.26 L365.75,106.06 L366.06,109.13 L366.37,105.48 L366.68,104.49 L366.99,112.83 L367.30,100.50 L367.61,109.55 L367.92,111.30 L368.23,109.35 L368.54,108.37 L368.85,105.30 L369.16,111.57 L369.47,105.26 L369.78,102.88 L370.09,96.16 L370.40,106.50 L370.71,107.87 L371.02,110.72 L371.33,106.52 L371.64,106.89 L371.95,106.04 L372.26,101.53 L372.57,96.71 L372.88,106.79 L373.19,104.00 L373.50,111.14 L373.81,110.64 L374.12,108.76 L374.43,109.44 L374.74,106.13 L375.05,108.62 L375.36,89.48 L375.67,104.10 L375.98,105.95 L376.29,108.78 L376.60,106.32 L376.91,105.85 L377.22,110.46 L377.53,106.98 L377.84,106.10 L378.15,97.90 L378.46,103.98 L378.77,104.86 L379.08,109.86 L379.39,107.53 L379.70,109.89 L380.01,106.41 L380.32,109.97 L380.63,105.57 L380.94,97.35 L381.25,105.45 L381.56,108.19 L381.87,111.41 L382.18,103.50 L382.49,108.26 L382.80,104.46 L383.11,106.78 L383.42,106.18 L383.73,98.01 L384.04,107.00 L384.35,104.40 L384.66,111.48 L384.97,105.70 L385.28,108.43 L385.59,108.17 L385.90,107.82 L386.21,106.99 L386.52,89.00 L386.83,112.39 L387.14,107.73 L387.45,109.60 L387.76,104.97 L388.07,108.88 L388.38,106.72 L388.69,108.81 L389.00,106.20 L389.31,98.87 L389.62,108.81 L389.93,107.72 L390.24,111.32 L390.55,107.09 L390.86,105.73 L391.17,109.20 L391.48,105.09 L391.79,112.93 L392.10,95.69 L392.41,111.25 L392.72,109.03 L393.03,107.79 L393.34,108.03 L393.65,108.00 L393.96,106.06 L394.27,109.00 L394.58,110.94 L394.89,91.59 L395.20,102.65 L395.51,113.61 L395.82,108.27 L396.13,104.26 L396.44,106.65 L396.75,109.87 L397.06,107.83 L397.37,105.72 L397.68,104.87 L397.99,89.20 L398.30,105.97 L398.61,107.22 L398.92,105.13 L399.23,107.97 L399.54,108.69 L399.85,106.38 L400.16,105.95 L400.47,106.58 L400.78,105.95 L401.09,105.68 L401.40,105.37 L401.71,106.02 L402.02,105.33 L402.33,106.84 L402.64,107.48 L402.95,107.87 L403.26,109.58 L403.57,109.03 L403.88,108.40 L404.19,109.20 L404.50,110.11 L404.81,109.58 L405.12,111.02 L405.43,109.92 L405.74,109.25 L406.05,108.84 L406.36,109.32 L406.67,138.51 L406.98,106.83 L407.29,107.70 L407.60,110.46 L407.91,113.53 L408.22,111.11 L408.53,106.50 L408.84,112.25 L409.15,112.68 L409.46,110.11 L409.77,108.14 L410.08,107.90 L410.39,109.48 L410.70,106.64 L411.01,127.37 L411.32,109.23 L411.63,107.38 L411.94,108.20 L412.25,112.67 L412.56,109.46 L412.87,113.63 L413.18,108.35 L413.49,107.12 L413.80,107.41 L414.11,108.31 L414.42,116.35 L414.73,143.54 L415.04,108.12 L415.35,107.80 L415.66,107.89 L415.97,111.84 L416.28,108.76 L416.59,111.28 L416.90,112.90 L417.21,108.35 L417.52,112.57 L417.83,108.77 L418.14,109.20 L418.45,127.75 L418.76,107.78 L419.07,110.05 L419.38,111.87 L419.69,108.80 L420.00,111.77 L420.31,108.25 L420.62,113.33 L420.93,109.11 L421.24,110.38 L421.55,110.08 L421.86,126.09 L422.17,112.42 L422.48,108.91 L422.79,112.82 L423.10,108.31 L423.41,106.93 L423.72,110.49 L424.03,110.32 L424.34,110.99 L424.65,109.01 L424.96,111.88 L425.27,121.86 L425.58,108.18 L425.89,110.35 L426.20,110.93 L426.51,109.56 L426.82,108.93 L427.13,110.98 L427.44,110.52 L427.75,110.35 L428.06,108.15 L428.37,120.99 L428.68,108.24 L428.99,114.76 L429.30,112.91 L429.61,108.46 L429.92,111.69 L430.23,111.84 L430.54,111.80 L430.85,113.13 L431.16,109.79 L431.47,110.64 L431.78,140.00 L432.09,109.28 L432.40,105.79 L432.71,108.52 L433.02,112.23 L433.33,112.09 L433.64,111.06 L433.95,109.34 L434.26,106.35 L434.57,107.90 L434.88,110.75 L435.19,122.80 L435.50,108.77 L435.81,106.92 L436.12,108.14 L436.43,107.57 L436.74,108.05 L437.05,109.54 L437.36,107.18 L437.67,108.14 L437.98,109.52 L438.29,109.23 L438.60,125.36 L438.91,111.75 L439.22,110.82 L439.53,107.20 L439.84,108.76 L440.15,108.27 L440.46,107.56 L440.77,108.06 L441.08,113.90 L441.39,112.28 L441.70,113.26 L442.01,111.02 L442.32,132.05 L442.63,108.18 L442.94,113.49 L443.25,111.87 L443.56,110.13 L443.87,107.58 L444.18,107.22 L444.49,110.57 L444.80,115.17 L445.11,109.55 L445.42,107.31 L445.73,124.47 L446.04,107.90 L446.35,107.41 L446.66,106.46 L446.97,110.69 L447.28,108.67 L447.59,110.95 L447.90,106.28 L448.21,108.41 L448.52,120.11 L448.83,106.28 L449.14,107.52 L449.45,107.41 L449.76,106.16 L450.07,107.32 L450.38,109.37 L450.69,106.99 L451.00,107.94 L451.31,107.84 L451.62,113.34 L451.93,120.56 L452.24,106.73 L452.55,107.68 L452.86,109.15 L453.17,107.76 L453.48,102.00 L453.79,102.00 L454.10,116.29 L454.41,109.18 L454.72,110.02 L455.03,114.25 L455.34,108.84 L455.65,108.78 L455.96,113.09 L456.27,145.08 L456.58,113.63 L456.89,107.92 L457.20,111.04 L457.51,107.13 L457.82,106.10 L458.13,110.21 L458.44,106.92 L458.75,109.86 L459.06,113.82 L459.37,110.67 L459.68,140.65 L459.99,106.98 L460.30,106.75 L460.61,108.77 L460.92,110.44 L461.23,113.17 L461.54,107.51 L461.85,107.95 L462.16,111.94 L462.47,111.06 L462.78,108.48 L463.09,129.56 L463.40,108.86 L463.71,108.92 L464.02,108.64 L464.33,113.04 L464.64,109.78 L464.95,113.21 L465.26,107.71 L465.57,108.35 L465.88,106.47 L466.19,110.06 L466.50,107.01 L466.81,108.20 L467.12,107.93 L467.43,107.47 L467.74,109.03 L468.05,109.77 L468.36,108.45 L468.67,121.47 L468.98,113.76 L469.29,114.49 L469.60,110.94 L469.91,110.61 L470.22,114.36 L470.53,106.52 L470.84,110.06 L471.15,110.48 L471.46,107.77 L471.77,111.23 L472.08,111.74 L472.39,121.65 L472.70,108.87 L473.01,106.41 L473.32,106.15 L473.63,107.21 L473.94,106.96 L474.25,107.49 L474.56,105.53 L474.87,111.51 L475.18,123.67 L475.49,112.98 L475.80,109.19 L476.11,107.71 L476.42,108.85 L476.73,109.86 L477.04,114.65 L477.35,109.83 L477.66,105.60 L477.97,120.39 L478.28,108.00 L478.59,108.35 L478.90,109.10 L479.21,108.16 L479.52,108.51 L479.83,108.60 L480.14,108.80 L480.45,113.23 L480.76,109.74 L481.07,124.29 L481.38,113.81 L481.69,113.73 L482.00,110.34 L482.31,108.99 L482.62,114.22 L482.93,109.98 L483.24,108.09 L483.55,112.09 L483.86,112.27 L484.17,109.19 L484.48,136.76 L484.79,105.87 L485.10,107.07 L485.41,110.53 L485.72,106.16 L486.03,110.97 L486.34,108.77 L486.65,110.61 L486.96,109.59 L487.27,120.13 L487.58,109.70 L487.89,108.41 L488.20,109.87 L488.51,111.76 L488.82,108.31 L489.13,108.55 L489.44,107.76 L489.75,110.37 L490.06,110.84 L490.37,108.66 L490.68,134.65 L490.99,107.92 L491.30,106.98 L491.61,111.39 L491.92,112.93 L492.23,109.37 L492.54,110.65 L492.85,108.76 L493.16,111.05 L493.47,107.63 L493.78,111.62 L494.09,107.63 L494.40,108.59 L494.71,111.16 L495.02,109.93 L495.33,108.87 L495.64,108.77 L495.95,124.78 L496.26,106.88 L496.57,110.17 L496.88,105.98 L497.19,110.05 L497.50,109.49 L497.81,118.01 L498.12,109.17 L498.43,115.17 L498.74,108.72 L499.05,113.17 L499.36,122.10 L499.67,108.71 L499.98,114.96 L500.29,110.86 L500.60,111.44 L500.91,115.36 L501.22,109.87 L501.53,111.20 L501.84,112.37 L502.15,109.77 L502.46,108.19 L502.77,107.87 L503.08,134.18 L503.39,109.72 L503.70,108.43 L504.01,112.10 L504.32,111.44 L504.63,110.35 L504.94,107.22 L505.25,112.32 L505.56,114.21 L505.87,125.70 L506.18,109.50 L506.49,109.44 L506.80,110.23 L507.11,112.00 L507.42,108.62 L507.73,110.81 L508.04,106.87 L508.35,108.83 L508.66,108.98 L508.97,132.36 L509.28,109.54 L509.59,110.87 L509.90,110.38 L510.21,106.25 L510.52,107.99 L510.83,107.98 L511.14,108.83 L511.45,105.82 L511.76,110.86 L512.07,135.90 L512.38,108.41 L512.69,107.64 L513.00,109.35 L513.31,108.27 L513.62,109.86 L513.93,106.89 L514.24,109.65 L514.55,107.70 L514.86,107.92 L515.17,121.70 L515.48,111.39 L515.79,112.15 L516.10,111.32 L516.41,107.96 L516.72,106.92 L517.03,107.60 L517.34,107.59 L517.65,108.52 L517.96,113.36 L518.27,110.74 L518.58,121.71 L518.89,108.44 L519.20,108.78 L519.51,113.59 L519.82,108.64 L520.13,110.67" stroke="#ff7f0e"/>
<path d="M71.25,111.76 L71.56,99.90 L71.87,147.20 L72.18,116.14 L72.49,114.00 L72.80,116.63 L73.11,121.72 L73.42,128.66 L73.73,89.60 L74.04,114.81 L74.35,109.36 L74.66,98.03 L74.97,111.25 L75.28,116.33 L75.59,111.91 L75.90,108.35 L76.21,118.37 L76.52,120.84 L76.83,127.06 L77.14,121.53 L77.45,87.80 L77.76,102.02 L78.07,117.99 L78.38,110.43 L78.69,111.00 L79.00,124.59 L79.31,121.75 L79.62,118.91 L79.93,112.00 L80.24,111.21 L80.55,133.00 L80.86,114.11 L81.17,109.75 L81.48,73.60 L81.79,106.56 L82.10,115.73 L82.41,111.92 L82.72,124.95 L83.03,129.97 L83.34,119.93 L83.65,111.22 L83.96,134.00 L84.27,117.78 L84.58,105.48 L84.89,105.09 L85.20,87.80 L85.51,107.55 L85.82,111.18 L86.13,188.00 L86.44,120.44 L86.75,126.33 L87.06,100.51 L87.37,111.40 L87.68,108.93 L87.99,100.06 L88.30,108.41 L88.61,112.09 L88.92,130.00 L89.23,93.20 L89.54,130.10 L89.85,137.32 L90.16,122.87 L90.47,111.14 L90.78,100.07 L91.09,114.61 L91.40,112.73 L91.71,107.35 L92.02,131.58 L92.33,126.99 L92.64,122.41 L92.95,108.59 L93.26,120.11 L93.57,114.04 L93.88,112.24 L94.19,99.52 L94.50,133.00 L94.81,113.37 L95.12,93.70 L95.43,112.99 L95.74,125.39 L96.05,122.35 L96.36,119.31 L96.67,110.03 L96.98,93.70 L97.29,112.73 L97.60,117.24 L97.91,111.82 L98.22,113.94 L98.53,124.56 L98.84,129.41 L99.15,119.71 L99.46,93.73 L99.77,113.43 L100.08,106.60 L100.39,146.40 L100.70,108.90 L101.01,118.10 L101.32,110.06 L101.63,120.05 L101.94,91.43 L102.25,132.95 L102.56,116.18 L102.87,110.96 L103.18,104.89 L103.49,178.80 L103.80,114.83 L104.11,91.40 L104.42,109.34 L104.73,112.63 L105.04,112.78 L105.35,125.52 L105.66,137.80 L105.97,116.84 L106.28,100.92 L106.59,111.59 L106.90,116.94 L107.21,110.49 L107.52,115.98 L107.83,85.60 L108.14,138.37 L108.45,132.08 L108.76,125.80 L109.07,112.35 L109.38,120.11 L109.69,155.20 L110.00,109.98 L110.31,120.11 L110.62,107.61 L110.93,123.88 L111.24,128.44 L111.55,119.32 L111.86,97.91 L112.17,111.12 L112.48,119.31 L112.79,101.92 L113.10,104.89 L113.41,147.20 L113.72,91.40 L114.03,120.69 L114.34,126.78 L114.65,121.37 L114.96,114.43 L115.27,112.02 L115.58,103.13 L115.89,109.07 L116.20,118.04 L116.51,105.59 L116.82,112.52 L117.13,124.73 L117.44,97.74 L117.75,115.17 L118.06,113.37 L118.37,114.52 L118.68,111.73 L118.99,100.31 L119.30,113.24 L119.61,70.00 L119.92,136.00 L120.23,104.89 L120.54,120.94 L120.85,128.65 L121.16,110.11 L121.47,100.15 L121.78,118.90 L122.09,102.68 L122.40,114.87 L122.71,120.11 L123.02,98.76 L123.33,121.29 L123.64,127.88 L123.95,122.02 L124.26,134.50 L124.57,114.41 L124.88,112.47 L125.19,117.21 L125.50,100.13 L125.81,105.21 L126.12,114.25 L126.43,110.33 L126.74,111.93 L127.05,90.00 L127.36,138.65 L127.67,128.48 L127.98,113.25 L128.29,112.51 L128.60,104.04 L128.91,105.99 L129.22,108.42 L129.53,109.89 L129.84,114.53 L130.15,124.67 L130.46,129.57 L130.77,98.91 L131.08,112.46 L131.39,109.10 L131.70,99.67 L132.01,107.68 L132.32,107.24 L132.63,114.00 L132.94,145.00 L133.25,124.68 L133.56,129.59 L133.87,119.78 L134.18,107.48 L134.49,104.89 L134.80,85.60 L135.11,104.18 L135.42,120.06 L135.73,107.75 L136.04,116.75 L136.35,122.92 L136.66,132.61 L136.97,134.00 L137.28,120.11 L137.59,110.49 L137.90,100.40 L138.21,112.97 L138.52,99.10 L138.83,115.99 L139.14,119.20 L139.45,112.58 L139.76,116.54 L140.07,99.02 L140.38,124.22 L140.69,135.21 L141.00,109.77 L141.31,99.55 L141.62,147.00 L141.93,116.67 L142.24,116.12 L142.55,110.81 L142.86,173.00 L143.17,126.05 L143.48,118.36 L143.79,94.74 L144.10,109.22 L144.41,162.00 L144.72,112.20 L145.03,111.83 L145.34,118.88 L145.65,114.02 L145.96,119.71 L146.27,126.19 L146.58,111.37 L146.89,113.19 L147.20,106.10 L147.51,108.03 L147.82,120.11 L148.13,115.16 L148.44,120.11 L148.75,120.11 L149.06,114.37 L149.37,126.20 L149.68,170.00 L149.99,120.64 L150.30,116.38 L150.61,156.00 L150.92,110.99 L151.23,111.53 L151.54,112.03 L151.85,111.58 L152.16,107.81 L152.47,167.00 L152.78,129.93 L153.09,124.37 L153.40,109.26 L153.71,96.04 L154.02,106.01 L154.33,118.01 L154.64,112.44 L154.95,111.80 L155.26,118.27 L155.57,140.00 L155.88,139.84 L156.19,129.20 L156.50,107.98 L156.81,109.91 L157.12,101.12 L157.43,135.00 L157.74,112.07 L158.05,111.36 L158.36,128.18 L158.67,124.44 L158.98,120.71 L159.29,105.93 L159.60,110.12 L159.91,111.79 L160.22,101.81 L160.53,114.49 L160.84,92.20 L161.15,120.11 L161.46,104.89 L161.77,123.33 L162.08,131.59 L162.39,124.25 L162.70,111.22 L163.01,94.99 L163.32,113.00 L163.63,112.76 L163.94,111.50 L164.25,130.02 L164.56,125.82 L164.87,121.63 L165.18,100.43 L165.49,114.88 L165.80,104.89 L166.11,134.00 L166.42,100.52 L166.73,113.46 L167.04,84.70 L167.35,112.09 L167.66,125.17 L167.97,130.28 L168.28,120.05 L168.59,112.85 L168.90,111.23 L169.21,119.59 L169.52,102.47 L169.83,106.62 L170.14,107.42 L170.45,115.55 L170.76,108.93 L171.07,89.20 L171.38,113.30 L171.69,124.33 L172.00,121.56 L172.31,118.78 L172.62,116.64 L172.93,97.55 L173.24,104.89 L173.55,113.03 L173.86,112.76 L174.17,116.90 L174.48,99.34 L174.79,130.62 L175.10,136.00 L175.41,123.17 L175.72,116.21 L176.03,105.91 L176.34,104.89 L176.65,92.20 L176.96,109.05 L177.27,104.89 L177.58,112.73 L177.89,119.61 L178.20,124.83 L178.51,120.19 L178.82,104.89 L179.13,104.10 L179.44,116.39 L179.75,115.96 L180.06,114.24 L180.37,110.33 L180.68,112.77 L180.99,125.65 L181.30,135.80 L181.61,71.60 L181.92,111.96 L182.23,110.75 L182.54,101.74 L182.85,109.29 L183.16,104.89 L183.47,108.86 L183.78,120.77 L184.09,128.30 L184.40,109.86 L184.71,120.11 L185.02,118.68 L185.33,107.57 L185.64,99.53 L185.95,147.90 L186.26,120.11 L186.57,113.59 L186.88,140.00 L187.19,92.20 L187.50,131.77 L187.81,110.70 L188.12,115.59 L188.43,117.51 L188.74,112.04 L189.05,99.62 L189.36,117.42 L189.67,111.19 L189.98,117.42 L190.29,106.30 L190.60,106.55 L190.91,121.89 L191.22,147.20 L191.53,122.68 L191.84,98.11 L192.15,108.40 L192.46,113.43 L192.77,118.15 L193.08,118.85 L193.39,107.86 L193.70,90.70 L194.01,132.83 L194.32,124.99 L194.63,120.11 L194.94,105.21 L195.25,110.90 L195.56,109.84 L195.87,99.87 L196.18,140.00 L196.49,110.73 L196.80,140.27 L197.11,133.51 L197.42,126.75 L197.73,109.49 L198.04,101.61 L198.35,105.15 L198.66,108.83 L198.97,105.17 L199.28,113.65 L199.59,127.92 L199.90,139.93 L200.21,129.25 L200.52,157.40 L200.83,104.89 L201.14,99.61 L201.45,110.96 L201.76,119.97 L202.07,113.64 L202.38,131.75 L202.69,139.68 L203.00,123.82 L203.31,110.11 L203.62,116.89 L203.93,114.23 L204.24,142.00 L204.55,112.01 L204.86,114.40 L205.17,98.88 L205.48,113.26 L205.79,116.81 L206.10,122.80 L206.41,130.62 L206.72,123.67 L207.03,177.00 L207.34,91.70 L207.65,114.96 L207.96,100.78 L208.27,107.57 L208.58,114.31 L208.89,89.60 L209.20,115.59 L209.51,109.87 L209.82,119.47 L210.13,124.57 L210.44,120.04 L210.75,85.20 L211.06,108.80 L211.37,112.00 L211.68,117.10 L211.99,123.18 L212.30,127.43 L212.61,118.92 L212.92,90.00 L213.23,111.96 L213.54,120.11 L213.85,102.78 L214.16,117.08 L214.47,120.11 L214.78,90.00 L215.09,106.34 L215.40,130.22 L215.71,125.97 L216.02,121.73 L216.33,117.31 L216.64,109.90 L216.95,115.73 L217.26,100.69 L217.57,108.90 L217.88,115.47 L218.19,109.64 L218.50,116.53 L218.81,207.50 L219.12,207.50 L219.43,134.39 L219.74,113.34 L220.05,110.57 L220.36,111.92 L220.67,110.98 L220.98,111.52 L221.29,104.89 L221.60,116.87 L221.91,119.41 L222.22,116.73 L222.53,113.38 L222.84,113.63 L223.15,113.75 L223.46,113.95 L223.77,113.95 L224.08,113.05 L224.39,114.82 L224.70,112.17 L225.01,114.35 L225.32,113.06 L225.63,114.33 L225.94,114.51 L226.25,111.83 L226.56,114.58 L226.87,115.73 L227.18,115.06 L227.49,114.59 L227.80,102.73 L228.11,110.06 L228.42,106.49 L228.73,115.99 L229.04,109.35 L229.35,107.79 L229.66,122.13 L229.97,114.48 L230.28,108.13 L230.59,109.60 L230.90,116.07 L231.21,111.17 L231.52,112.36 L231.83,119.85 L232.14,108.16 L232.45,108.45 L232.76,113.21 L233.07,123.13 L233.38,103.89 L233.69,109.79 L234.00,106.14 L234.31,104.24 L234.62,113.60 L234.93,107.14 L235.24,112.25 L235.55,111.38 L235.86,111.49 L236.17,121.46 L236.48,105.70 L236.79,110.48 L237.10,111.82 L237.41,112.41 L237.72,109.43 L238.03,115.39 L238.34,123.87 L238.65,111.33 L238.96,113.80 L239.27,111.65 L239.58,114.01 L239.89,102.92 L240.20,104.70 L240.51,108.92 L240.82,111.33 L241.13,102.94 L241.44,109.53 L241.75,111.49 L242.06,122.89 L242.37,109.62 L242.68,104.35 L242.99,111.17 L243.30,102.97 L243.61,115.28 L243.92,107.77 L244.23,115.85 L244.54,102.99 L244.85,112.65 L245.16,111.35 L245.47,106.69 L245.78,123.07 L246.09,116.35 L246.40,112.72 L246.71,117.68 L247.02,110.43 L247.33,111.56 L247.64,112.73 L247.95,114.31 L248.26,112.90 L248.57,114.60 L248.88,121.91 L249.19,103.93 L249.50,119.56 L249.81,111.62 L250.12,113.05 L250.43,108.76 L250.74,115.55 L251.05,111.77 L251.36,115.96 L251.67,122.14 L251.98,110.61 L252.29,111.83 L252.60,109.34 L252.91,112.23 L253.22,118.34 L253.53,108.29 L253.84,109.73 L254.15,121.86 L254.46,106.48 L254.77,105.40 L255.08,116.17 L255.39,114.71 L255.70,103.88 L256.01,104.48 L256.32,114.51 L256.63,116.56 L256.94,120.30 L257.25,113.39 L257.56,118.42 L257.87,110.93 L258.18,117.01 L258.49,116.68 L258.80,106.84 L259.11,114.24 L259.42,111.41 L259.73,121.23 L260.04,107.33 L260.35,112.63 L260.66,110.87 L260.97,114.88 L261.28,103.25 L261.59,108.09 L261.90,116.15 L262.21,111.06 L262.52,107.80 L262.83,123.18 L263.14,103.28 L263.45,104.79 L263.76,113.55 L264.07,111.49 L264.38,116.94 L264.69,109.94 L265.00,110.39 L265.31,103.32 L265.62,110.63 L265.93,122.57 L266.24,114.14 L266.55,110.57 L266.86,116.79 L267.17,115.02 L267.48,112.74 L267.79,109.52 L268.10,111.83 L268.41,115.11 L268.72,107.51 L269.03,120.98 L269.34,113.34 L269.65,117.32 L269.96,114.63 L270.27,108.13 L270.58,118.38 L270.89,111.40 L271.20,107.84 L271.51,112.78 L271.82,123.15 L272.13,116.11 L272.44,105.18 L272.75,106.13 L273.06,110.02 L273.37,118.96 L273.68,115.77 L273.99,106.70 L274.30,103.46 L274.61,109.75 L274.92,105.49 L275.23,113.80 L275.54,120.60 L275.85,111.07 L276.16,109.19 L276.47,117.90 L276.78,106.88 L277.09,105.18 L277.40,116.19 L277.71,123.49 L278.02,109.52 L278.33,113.99 L278.64,119.08 L278.95,107.49 L279.26,110.39 L279.57,113.19 L279.88,103.54 L280.19,110.46 L280.50,114.41 L280.81,110.63 L281.12,122.11 L281.43,114.44 L281.74,109.37 L282.05,113.52 L282.36,113.07 L282.67,103.72 L282.98,107.29 L283.29,107.54 L283.60,108.75 L283.91,108.95 L284.22,104.68 L284.53,111.16 L284.84,121.99 L285.15,115.25 L285.46,112.19 L285.77,117.11 L286.08,112.58 L286.39,108.81 L286.70,104.74 L287.01,113.97 L287.32,111.05 L287.63,112.64 L287.94,114.30 L288.25,120.64 L288.56,110.81 L288.87,118.61 L289.18,110.60 L289.49,110.99 L289.80,113.93 L290.11,115.46 L290.42,117.08 L290.73,103.71 L291.04,122.17 L291.35,104.34 L291.66,108.48 L291.97,112.65 L292.28,116.07 L292.59,106.58 L292.90,103.75 L293.21,115.10 L293.52,122.30 L293.83,106.55 L294.14,109.63 L294.45,103.77 L294.76,113.53 L295.07,108.75 L295.38,116.44 L295.69,103.79 L296.00,114.21 L296.31,122.23 L296.62,111.62 L296.93,111.67 L297.24,103.81 L297.55,112.52 L297.86,111.13 L298.17,108.55 L298.48,104.32 L298.79,111.35 L299.10,106.65 L299.41,108.87 L299.72,121.13 L300.03,110.75 L300.34,110.96 L300.65,114.96 L300.96,105.93 L301.27,116.95 L301.58,106.12 L301.89,107.04 L302.20,111.47 L302.51,114.31 L302.82,112.03 L303.13,109.08 L303.44,121.82 L303.75,109.87 L304.06,106.90 L304.37,113.42 L304.68,110.09 L304.99,117.67 L305.30,107.87 L305.61,110.43 L305.92,112.82 L306.23,106.21 L306.54,119.55 L306.85,118.61 L307.16,110.91 L307.47,117.16 L307.78,106.62 L308.09,103.98 L308.40,113.24 L308.71,110.77 L309.02,122.02 L309.33,109.62 L309.64,108.40 L309.95,105.73 L310.26,115.18 L310.57,104.56 L310.88,114.94 L311.19,109.93 L311.50,106.28 L311.81,108.13 L312.12,114.96 L312.43,113.98 L312.74,121.66 L313.05,111.29 L313.36,106.35 L313.67,116.40 L313.98,109.16 L314.29,108.57 L314.60,108.78 L314.91,109.16 L315.22,104.84 L315.53,109.08 L315.84,107.56 L316.15,119.55 L316.46,104.11 L316.77,118.45 L317.08,105.83 L317.39,112.14 L317.70,112.22 L318.01,115.03 L318.32,118.42 L318.63,112.63 L318.94,113.88 L319.25,109.07 L319.56,117.07 L319.87,122.43 L320.18,109.97 L320.49,112.08 L320.80,113.96 L321.11,114.27 L321.42,115.65 L321.73,113.28 L322.04,111.05 L322.35,111.79 L322.66,116.79 L322.97,120.77 L323.28,114.68 L323.59,110.43 L323.90,104.23 L324.21,108.56 L324.52,112.34 L324.83,117.61 L325.14,116.76 L325.45,117.85 L325.76,108.17 L326.07,120.06 L326.38,110.83 L326.69,113.57 L327.00,110.71 L327.31,105.48 L327.62,113.81 L327.93,112.44 L328.24,114.29 L328.55,107.59 L328.86,115.16 L329.17,115.59 L329.48,121.61 L329.79,116.67 L330.10,109.21 L330.41,104.33 L330.72,115.02 L331.03,107.31 L331.34,110.08 L331.65,115.44 L331.96,112.17 L332.27,120.03 L332.58,113.80 L332.89,104.37 L333.20,118.17 L333.51,109.58 L333.82,109.77 L334.13,113.36 L334.44,119.77 L334.75,107.63 L335.06,110.48 L335.37,109.44 L335.68,108.36 L335.99,118.13 L336.30,105.29 L336.61,104.43 L336.92,107.24 L337.23,107.12 L337.54,116.57 L337.85,111.54 L338.16,119.77 L338.47,113.36 L338.78,107.31 L339.09,114.20 L339.40,111.58 L339.71,118.07 L340.02,111.69 L340.33,119.86 L340.64,113.81 L340.95,113.86 L341.26,104.50 L341.57,115.75 L341.88,115.14 L342.19,114.20 L342.50,106.45 L342.81,104.53 L343.12,109.80 L343.43,121.00 L343.74,112.72 L344.05,106.99 L344.36,114.58 L344.67,105.50 L344.98,105.65 L345.29,110.81 L345.60,108.60 L345.91,108.21 L346.22,105.14 L346.53,115.09 L346.84,121.88 L347.15,112.51 L347.46,114.00 L347.77,110.69 L348.08,111.89 L348.39,114.83 L348.70,117.15 L349.01,114.65 L349.32,105.57 L349.63,104.63 L349.94,108.61 L350.25,106.59 L350.56,121.92 L350.87,111.37 L351.18,110.01 L351.49,115.16 L351.80,114.81 L352.11,110.71 L352.42,112.28 L352.73,115.08 L353.04,109.62 L353.35,119.29 L353.66,107.24 L353.97,111.10 L354.28,112.20 L354.59,110.60 L354.90,111.72 L355.21,113.58 L355.52,112.58 L355.83,108.28 L356.14,108.67 L356.45,106.28 L356.76,117.39 L357.07,119.54 L357.38,112.62 L357.69,110.44 L358.00,112.76 L358.31,112.98 L358.62,108.17 L358.93,110.42 L359.24,115.40 L359.55,106.14 L359.86,107.39 L360.17,119.61 L360.48,108.01 L360.79,113.79 L361.10,106.93 L361.41,111.88 L361.72,114.03 L362.03,112.45 L362.34,113.89 L362.65,110.37 L362.96,110.44 L363.27,110.95 L363.58,119.34 L363.89,117.67 L364.20,110.74 L364.51,117.66 L364.82,110.19 L365.13,106.95 L365.44,110.08 L365.75,112.50 L366.06,111.73 L366.37,119.37 L366.68,113.07 L366.99,113.20 L367.30,114.43 L367.61,106.77 L367.92,111.13 L368.23,107.62 L368.54,111.98 L368.85,110.82 L369.16,111.69 L369.47,109.41 L369.78,120.68 L370.09,110.21 L370.40,113.50 L370.71,113.88 L371.02,105.11 L371.33,112.08 L371.64,112.12 L371.95,105.82 L372.26,107.18 L372.57,109.17 L372.88,112.51 L373.19,119.58 L373.50,109.67 L373.81,109.13 L374.12,111.69 L374.43,116.12 L374.74,115.83 L375.05,109.63 L375.36,121.39 L375.67,111.93 L375.98,115.24 L376.29,116.19 L376.60,112.24 L376.91,116.23 L377.22,107.90 L377.53,107.00 L377.84,105.07 L378.15,107.98 L378.46,113.17 L378.77,120.91 L379.08,117.42 L379.39,113.17 L379.70,111.70 L380.01,107.68 L380.32,108.93 L380.63,109.01 L380.94,110.33 L381.25,108.76 L381.56,106.01 L381.87,114.80 L382.18,112.67 L382.49,120.26 L382.80,105.43 L383.11,106.56 L383.42,108.46 L383.73,115.25 L384.04,110.48 L384.35,111.89 L384.66,110.80 L384.97,120.39 L385.28,109.28 L385.59,112.44 L385.90,108.12 L386.21,110.24 L386.52,112.09 L386.83,111.46 L387.14,112.60 L387.45,108.27 L387.76,120.02 L388.07,110.06 L388.38,112.43 L388.69,116.18 L389.00,107.97 L389.31,114.70 L389.62,108.75 L389.93,109.64 L390.24,116.74 L390.55,120.14 L390.86,112.83 L391.17,113.88 L391.48,115.11 L391.79,108.56 L392.10,111.89 L392.41,109.77 L392.72,112.54 L393.03,110.04 L393.34,113.62 L393.65,111.17 L393.96,109.11 L394.27,120.90 L394.58,112.62 L394.89,114.75 L395.20,110.51 L395.51,109.92 L395.82,111.95 L396.13,113.67 L396.44,109.25 L396.75,105.37 L397.06,120.88 L397.37,109.95 L397.68,109.81 L397.99,117.10 L398.30,110.66 L398.61,113.44 L398.92,106.45 L399.23,112.21 L399.54,113.60 L399.85,113.53 L400.16,111.19 L400.47,111.42 L400.78,111.17 L401.09,111.79 L401.40,111.68 L401.71,111.04 L402.02,110.64 L402.33,112.55 L402.64,114.09 L402.95,112.20 L403.26,113.11 L403.57,113.37 L403.88,113.99 L404.19,112.42 L404.50,114.19 L404.81,113.72 L405.12,115.35 L405.43,114.04 L405.74,113.74 L406.05,112.81 L406.36,112.09 L406.67,133.10 L406.98,110.31 L407.29,112.28 L407.60,116.19 L407.91,114.56 L408.22,118.08 L408.53,113.78 L408.84,113.63 L409.15,115.82 L409.46,110.62 L409.77,114.93 L410.08,114.46 L410.39,117.39 L410.70,119.07 L411.01,130.97 L411.32,115.88 L411.63,116.20 L411.94,113.31 L412.25,120.75 L412.56,117.80 L412.87,119.43 L413.18,111.96 L413.49,116.46 L413.80,116.34 L414.11,117.72 L414.42,113.00 L414.73,135.98 L415.04,114.60 L415.35,119.92 L415.66,112.36 L415.97,114.19 L416.28,113.82 L416.59,112.21 L416.90,115.58 L417.21,115.52 L417.52,113.43 L417.83,114.12 L418.14,115.70 L418.45,130.69 L418.76,116.31 L419.07,113.44 L419.38,112.92 L419.69,115.11 L420.00,110.69 L420.31,118.75 L420.62,115.67 L420.93,111.08 L421.24,116.12 L421.55,118.90 L421.86,128.64 L422.17,113.83 L422.48,117.94 L422.79,113.29 L423.10,117.53 L423.41,118.28 L423.72,115.48 L424.03,116.25 L424.34,117.71 L424.65,115.98 L424.96,117.49 L425.27,123.96 L425.58,115.17 L425.89,113.36 L426.20,116.19 L426.51,118.26 L426.82,118.23 L427.13,115.70 L427.44,111.49 L427.75,113.11 L428.06,116.63 L428.37,122.64 L428.68,117.86 L428.99,112.72 L429.30,116.02 L429.61,113.30 L429.92,113.65 L430.23,115.77 L430.54,114.34 L430.85,117.64 L431.16,115.29 L431.47,112.56 L431.78,149.00 L432.09,113.45 L432.40,114.91 L432.71,117.51 L433.02,112.61 L433.33,119.03 L433.64,117.01 L433.95,114.27 L434.26,117.96 L434.57,111.47 L434.88,112.53 L435.19,124.75 L435.50,116.43 L435.81,118.23 L436.12,118.43 L436.43,114.07 L436.74,113.64 L437.05,114.28 L437.36,114.49 L437.67,116.44 L437.98,114.26 L438.29,118.59 L438.60,128.51 L438.91,111.63 L439.22,111.99 L439.53,116.21 L439.84,115.90 L440.15,111.86 L440.46,110.89 L440.77,118.65 L441.08,116.12 L441.39,114.56 L441.70,112.23 L442.01,117.10 L442.32,128.96 L442.63,115.82 L442.94,109.49 L443.25,114.10 L443.56,115.43 L443.87,115.91 L444.18,112.62 L444.49,113.51 L444.80,117.67 L445.11,114.60 L445.42,118.28 L445.73,127.02 L446.04,118.18 L446.35,118.25 L446.66,116.74 L446.97,117.43 L447.28,113.86 L447.59,113.23 L447.90,115.68 L448.21,117.76 L448.52,121.61 L448.83,119.90 L449.14,119.68 L449.45,113.39 L449.76,113.56 L450.07,112.81 L450.38,115.62 L450.69,118.10 L451.00,116.32 L451.31,113.77 L451.62,116.93 L451.93,121.91 L452.24,118.41 L452.55,117.87 L452.86,113.12 L453.17,114.04 L453.48,117.86 L453.79,117.67 L454.10,116.44 L454.41,113.81 L454.72,117.88 L455.03,115.51 L455.34,120.19 L455.65,118.09 L455.96,114.12 L456.27,133.20 L456.58,117.85 L456.89,116.94 L457.20,113.22 L457.51,116.03 L457.82,116.39 L458.13,113.88 L458.44,114.65 L458.75,112.48 L459.06,113.23 L459.37,116.47 L459.68,134.53 L459.99,115.25 L460.30,118.32 L460.61,117.41 L460.92,112.81 L461.23,118.86 L461.54,112.75 L461.85,114.43 L462.16,115.44 L462.47,113.83 L462.78,113.98 L463.09,133.16 L463.40,116.05 L463.71,115.65 L464.02,115.69 L464.33,110.65 L464.64,112.87 L464.95,117.29 L465.26,115.89 L465.57,116.77 L465.88,115.07 L466.19,114.60 L466.50,109.68 L466.81,119.42 L467.12,112.67 L467.43,114.07 L467.74,116.76 L468.05,115.45 L468.36,116.27 L468.67,124.32 L468.98,112.72 L469.29,118.69 L469.60,111.99 L469.91,115.98 L470.22,111.54 L470.53,114.12 L470.84,112.18 L471.15,113.76 L471.46,112.53 L471.77,114.96 L472.08,117.06 L472.39,123.30 L472.70,113.41 L473.01,110.13 L473.32,119.83 L473.63,115.56 L473.94,112.58 L474.25,118.05 L474.56,115.63 L474.87,110.08 L475.18,122.25 L475.49,117.16 L475.80,111.71 L476.11,112.29 L476.42,113.25 L476.73,114.18 L477.04,114.52 L477.35,117.14 L477.66,116.30 L477.97,122.34 L478.28,114.75 L478.59,110.71 L478.90,115.87 L479.21,120.75 L479.52,115.87 L479.83,114.42 L480.14,114.17 L480.45,114.91 L480.76,117.02 L481.07,126.39 L481.38,116.64 L481.69,113.39 L482.00,115.75 L482.31,117.90 L482.62,111.73 L482.93,120.99 L483.24,117.08 L483.55,114.05 L483.86,115.91 L484.17,113.30 L484.48,132.76 L484.79,116.13 L485.10,109.97 L485.41,115.58 L485.72,115.43 L486.03,117.62 L486.34,116.82 L486.65,113.53 L486.96,113.73 L487.27,122.08 L487.58,116.71 L487.89,113.44 L488.20,119.07 L488.51,115.86 L488.82,115.65 L489.13,117.05 L489.44,114.69 L489.75,116.62 L490.06,116.94 L490.37,110.80 L490.68,129.90 L490.99,112.22 L491.30,114.92 L491.61,112.77 L491.92,113.20 L492.23,112.18 L492.54,109.45 L492.85,115.57 L493.16,114.42 L493.47,115.15 L493.78,123.32 L494.09,118.32 L494.40,114.98 L494.71,113.53 L495.02,116.38 L495.33,112.35 L495.64,112.00 L495.95,128.53 L496.26,111.66 L496.57,110.89 L496.88,113.92 L497.19,117.33 L497.50,111.56 L497.81,115.40 L498.12,115.90 L498.43,114.74 L498.74,116.28 L499.05,112.48 L499.36,123.75 L499.67,112.14 L499.98,113.64 L500.29,116.88 L500.60,115.38 L500.91,112.94 L501.22,115.96 L501.53,108.12 L501.84,115.58 L502.15,116.39 L502.46,112.30 L502.77,113.24 L503.08,139.23 L503.39,115.55 L503.70,114.00 L504.01,113.04 L504.32,113.21 L504.63,115.72 L504.94,113.99 L505.25,113.02 L505.56,113.20 L505.87,129.90 L506.18,117.10 L506.49,116.83 L506.80,115.55 L507.11,114.58 L507.42,112.83 L507.73,113.55 L508.04,115.30 L508.35,114.95 L508.66,110.86 L508.97,128.54 L509.28,114.29 L509.59,111.32 L509.90,114.19 L510.21,119.82 L510.52,114.12 L510.83,115.92 L511.14,115.27 L511.45,112.53 L511.76,113.90 L512.07,140.95 L512.38,112.90 L512.69,113.98 L513.00,114.76 L513.31,114.30 L513.62,114.41 L513.93,115.81 L514.24,116.09 L514.55,114.95 L514.86,117.25 L515.17,124.64 L515.48,111.94 L515.79,115.57 L516.10,115.06 L516.41,115.32 L516.72,114.95 L517.03,114.95 L517.34,114.85 L517.65,116.90 L517.96,112.81 L518.27,116.64 L518.58,123.81 L518.89,119.53 L519.20,117.51 L519.51,112.67 L519.82,115.35 L520.13,116.59" stroke="#2ca02c"/>
</g>
<rect x="48.70" y="59.20" width="494.30" height="246.40" fill="none" stroke="#000" stroke-width="1.3"/>
<g stroke="#000" stroke-width="1.4">
<line x1="71.25" y1="305.60" x2="71.25" y2="310.60"/>
<line x1="133.25" y1="305.60" x2="133.25" y2="310.60"/>
<line x1="195.25" y1="305.60" x2="195.25" y2="310.60"/>
<line x1="257.25" y1="305.60" x2="257.25" y2="310.60"/>
<line x1="319.25" y1="305.60" x2="319.25" y2="310.60"/>
<line x1="381.25" y1="305.60" x2="381.25" y2="310.60"/>
<line x1="443.25" y1="305.60" x2="443.25" y2="310.60"/>
<line x1="505.25" y1="305.60" x2="505.25" y2="310.60"/>
<line x1="43.70" y1="104.40" x2="48.70" y2="104.40"/>
<line x1="43.70" y1="153.50" x2="48.70" y2="153.50"/>
<line x1="43.70" y1="202.60" x2="48.70" y2="202.60"/>
<line x1="43.70" y1="251.70" x2="48.70" y2="251.70"/>
<line x1="43.70" y1="300.80" x2="48.70" y2="300.80"/>
</g>
<g font-family="'DejaVu Sans', 'Liberation Sans', sans-serif" font-size="15.2" fill="#000">
<text x="71.45" y="328.2" text-anchor="middle">0</text>
<text x="133.45" y="328.2" text-anchor="middle">200</text>
<text x="195.45" y="328.2" text-anchor="middle">400</text>
<text x="257.45" y="328.2" text-anchor="middle">600</text>
<text x="319.45" y="328.2" text-anchor="middle">800</text>
<text x="381.45" y="328.2" text-anchor="middle">1000</text>
<text x="443.45" y="328.2" text-anchor="middle">1200</text>
<text x="505.45" y="328.2" text-anchor="middle">1400</text>
<text x="38.2" y="110.00" text-anchor="end">0</text>
<text x="38.2" y="159.10" text-anchor="end">−5</text>
<text x="38.2" y="208.20" text-anchor="end">−10</text>
<text x="38.2" y="257.30" text-anchor="end">−15</text>
<text x="38.2" y="306.40" text-anchor="end">−20</text>
</g>
<g fill="none" stroke="#ff0000" stroke-width="1.45" stroke-dasharray="9.07 4.945" stroke-linejoin="miter">
<path d="M64.60,40.1 V207.7 H222.50 V40.1 Z"/>
<path d="M229.30,40.1 V207.7 H396.60 V40.1 Z"/>
<path d="M403.40,40.1 V207.7 H526.80 V40.1 Z"/>
</g>
<g font-family="'Liberation Serif', 'DejaVu Serif', serif" fill="#000" stroke="#000" stroke-width="0.1" text-anchor="middle">
<text x="287.55" y="19.4" font-size="18" textLength="118.3" lengthAdjust="spacingAndGlyphs">Sensor signals</text>
<text x="287.1" y="363.4" font-size="17.6" textLength="80.2" lengthAdjust="spacingAndGlyphs">Time step</text>
<text x="143.3" y="52.6" font-size="15.5" textLength="52.6" lengthAdjust="spacingAndGlyphs">Jogging</text>
<text x="310.8" y="53.0" font-size="15.5" textLength="57.4" lengthAdjust="spacingAndGlyphs">Walking</text>
<text x="460.8" y="53.0" font-size="15.5" textLength="57.6" lengthAdjust="spacingAndGlyphs">Upstairs</text>
</g>
<rect x="435.1" y="221" width="99.4" height="75.6" rx="2.8" fill="#fff" fill-opacity="0.8" stroke="#cccccc" stroke-opacity="0.85" stroke-width="1.6"/>
<g stroke-width="2.1" stroke-linecap="square">
<line x1="441.1" y1="234.0" x2="471.8" y2="234.0" stroke="#1f77b4"/>
<line x1="441.1" y1="257.9" x2="471.8" y2="257.9" stroke="#ff7f0e"/>
<line x1="441.1" y1="281.9" x2="471.8" y2="281.9" stroke="#2ca02c"/>
</g>
<g font-family="'DejaVu Sans', 'Liberation Sans', sans-serif" font-size="15.2" fill="#000">
<text x="485.2" y="239.4">acc_x</text>
<text x="485.2" y="263.3">acc_y</text>
<text x="485.2" y="287.3">acc_z</text>
</g>
</svg>
</body>
</html>
